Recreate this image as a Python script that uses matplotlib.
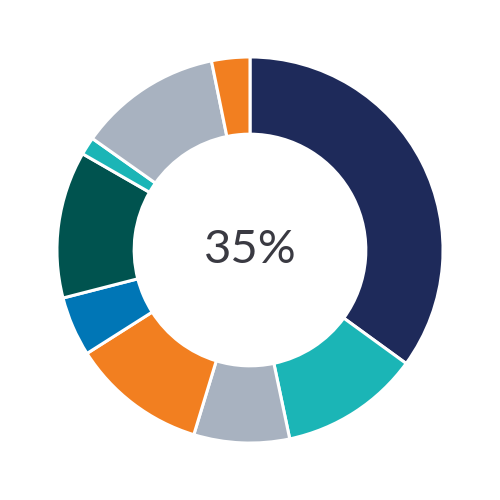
import matplotlib
matplotlib.use("Agg")
import matplotlib.pyplot as plt

# segments clockwise from 12 o'clock
labels = ["navy", "teal", "gray", "orange", "blue", "green", "teal2", "gray2", "orange2"]
values = [35, 11.7, 8.0, 11.3, 5.0, 12.3, 1.5, 12.0, 3.2]
colors = ["#1e2a5a", "#1bb5b6", "#a8b2c0", "#f27f20", "#0076b6",
          "#00534f", "#1bb5b6", "#a8b2c0", "#f27f20"]
center_text = "35%"

fig = plt.figure(figsize=(5, 5), dpi=100)
ax = fig.add_axes([0, 0, 1, 1])
ax.pie(values, colors=colors, startangle=90, counterclock=False,
       radius=1.0,
       wedgeprops=dict(width=0.40, edgecolor="white", linewidth=2.2))
ax.text(0, 0, center_text, ha="center", va="center", fontsize=34,
        color="#3a3a42", family="Lato", fontweight="normal")
ax.set_xlim(-1.295, 1.295)
ax.set_ylim(-1.295, 1.295)
ax.set_aspect("equal")
ax.axis("off")
fig.savefig("out.png", dpi=100)
